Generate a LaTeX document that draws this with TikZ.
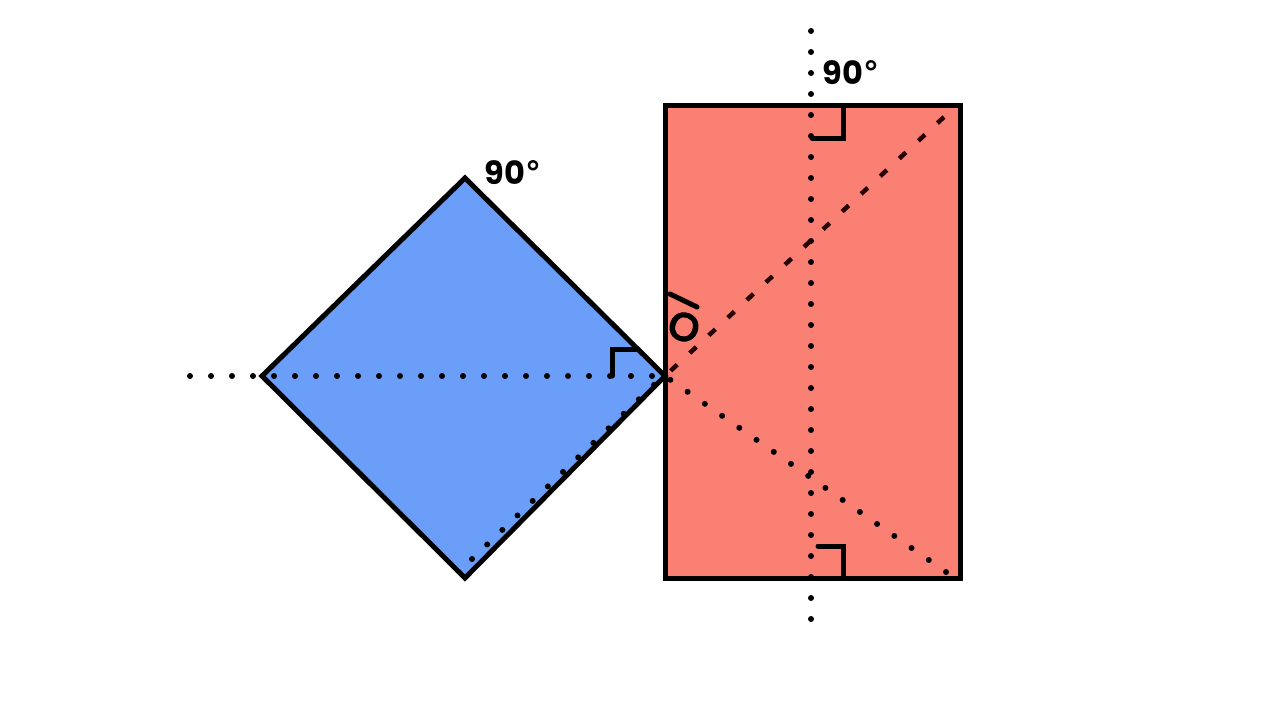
\documentclass[tikz,border=0pt]{standalone}
\usepackage{fontspec}
\setmainfont{Poppins}
\newfontfamily\degfont{DejaVu Sans}
\newfontfamily\ofont[FakeBold=2]{Poppins}
\definecolor{bluefill}{RGB}{106,158,248}
\definecolor{redfill}{RGB}{250,128,116}
\begin{document}
\begin{tikzpicture}[x=1pt,y=-1pt,
  outline/.style={draw=black,line width=5pt,line join=miter},
  dotline/.style={draw=black,line width=6pt,line cap=round,dash pattern=on 0pt off 21pt},
  dashline/.style={draw=black!85!red,line width=4.5pt,dash pattern=on 9pt off 17pt},
  rightang/.style={draw=black,line width=5pt,line cap=round},
  lbl/.style={font=\bfseries\fontsize{32}{36}\selectfont,inner sep=0pt}]
\useasboundingbox[fill=white] (0,0) rectangle (1280,720);
% vertices
\coordinate (T) at (465,178);
\coordinate (R) at (665,376);
\coordinate (B) at (465,578);
\coordinate (L) at (262,376);
\coordinate (RTL) at (665,105);
\coordinate (RBR) at (960,578);
% fills
\fill[bluefill] (T) -- (R) -- (B) -- (L) -- cycle;
\fill[redfill] (RTL) rectangle (RBR);
% construction lines
\coordinate (H0) at (190,376);
\coordinate (V0) at (811,31);
\coordinate (V1) at (811,628);
\coordinate (D0) at (472,559);
\coordinate (D1) at (658,381);
\coordinate (E1) at (946,572);
\coordinate (F1) at (944,117);
\draw[dotline] (H0) -- (R);
\draw[dotline] (V0) -- (V1);
\draw[dotline] (D0) -- (D1);
\draw[dotline] (E1) -- (R);
\draw[dashline] (F1) -- (R);
% outlines
\draw[outline] (T) -- (R) -- (B) -- (L) -- cycle;
\draw[outline] (RTL) rectangle (RBR);
% right angle marks
\coordinate (A1) at (612,376);
\coordinate (A2) at (612,349);
\coordinate (A3) at (638,349);
\draw[rightang] (A1) -- (A2) -- (A3);
\coordinate (C1) at (812,138);
\coordinate (C2) at (843,138);
\coordinate (C3) at (843,107);
\draw[rightang] (C1) -- (C2) -- (C3);
\coordinate (K1) at (818,546);
\coordinate (K2) at (843,546);
\coordinate (K3) at (843,576);
\draw[rightang] (K1) -- (K2) -- (K3);
% labels
\node[lbl] (l1) at (513,173) {90{\degfont°}};
\node[lbl] (l2) at (851,73) {90{\degfont°}};
\coordinate (S0) at (670,294);
\coordinate (S1) at (697,307);
\draw[rightang] (S0) -- (S1);
\node[font=\fontsize{50}{52}\selectfont\ofont,inner sep=0pt,rotate=-20] (o1) at (684,327) {o};
\end{tikzpicture}
\end{document}
